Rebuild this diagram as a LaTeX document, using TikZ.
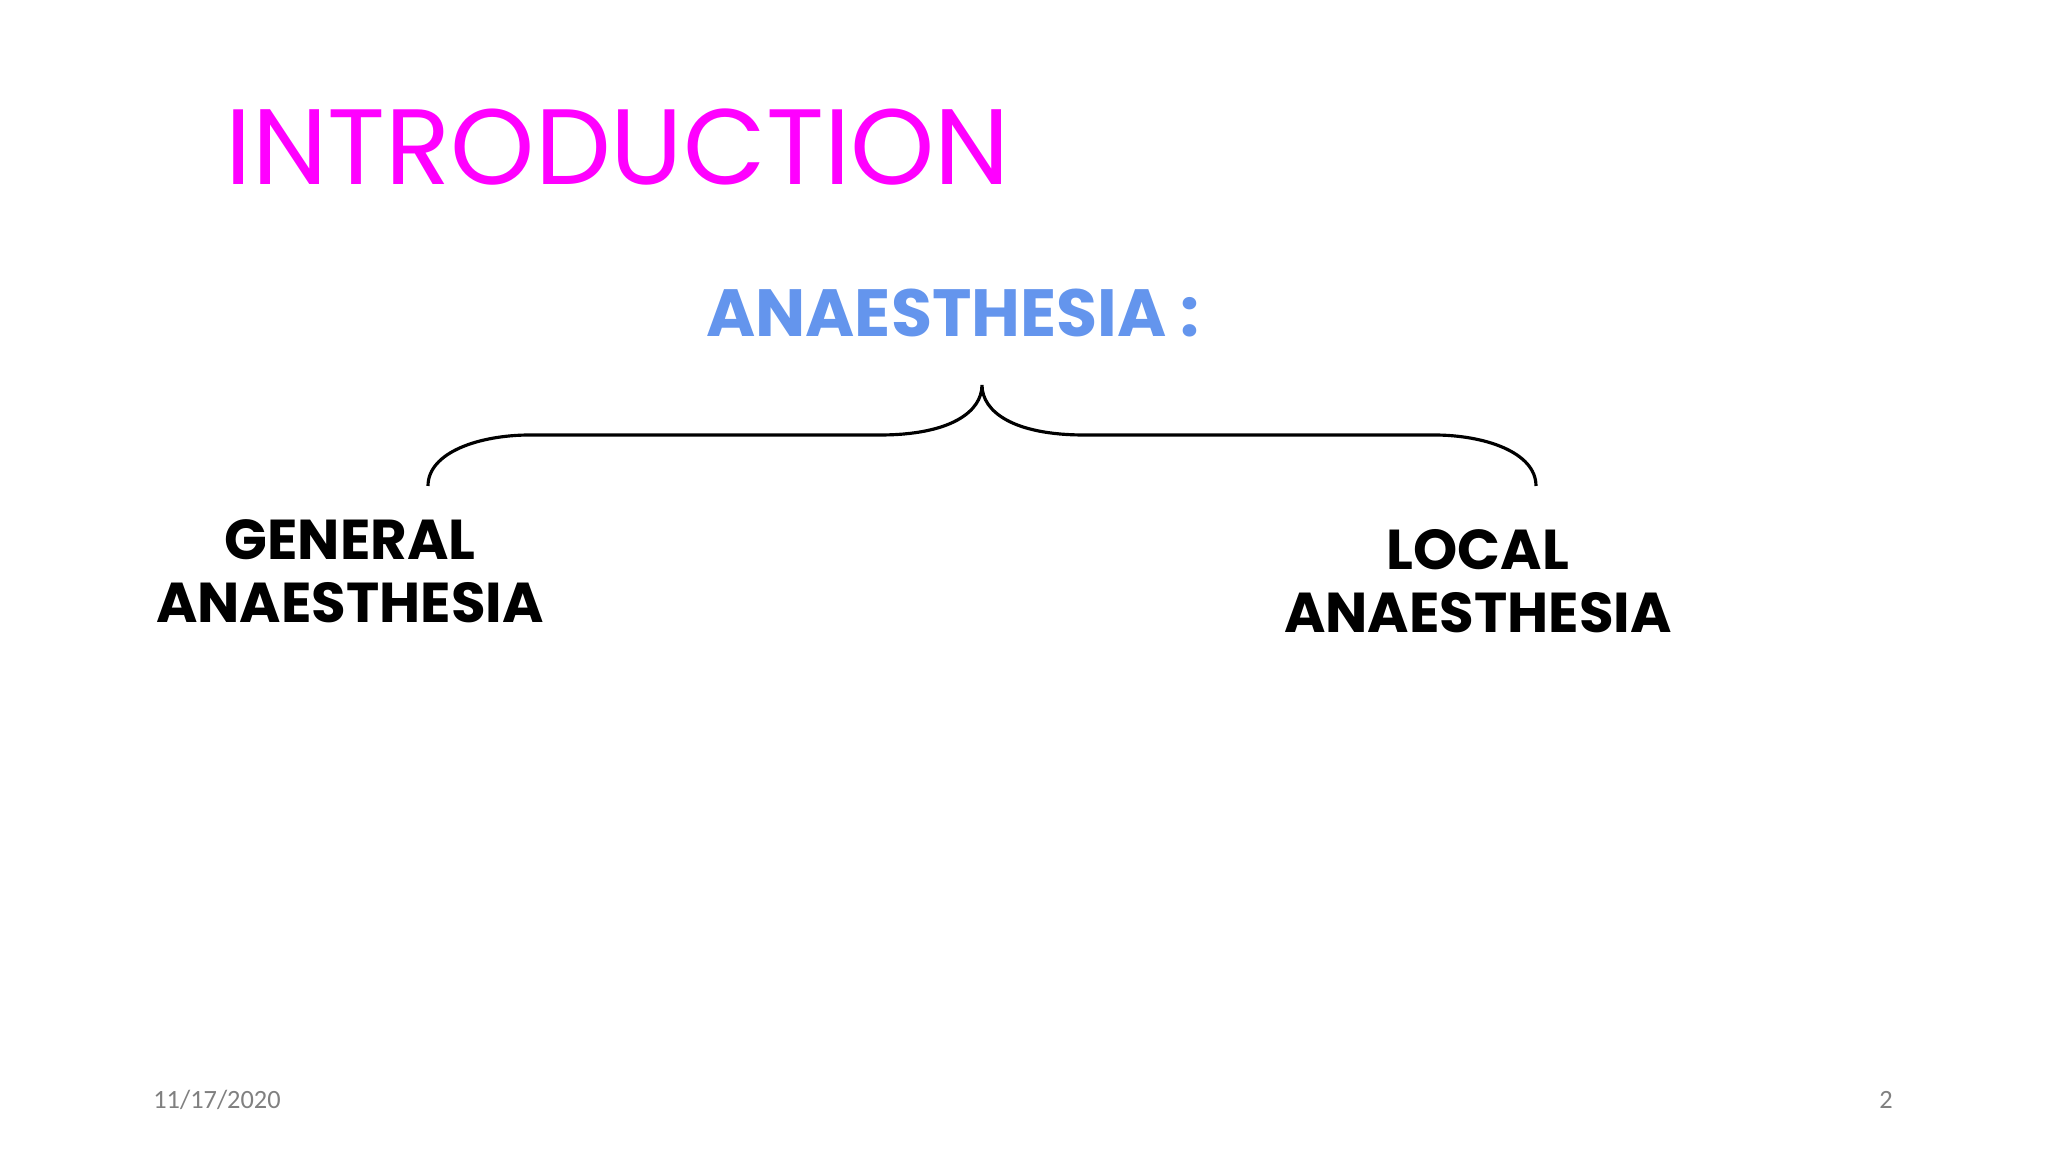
\documentclass[tikz,border=0pt]{standalone}
\usepackage{fontspec}
\setmainfont{Poppins}
\newfontfamily\datefont{Carlito}
\definecolor{mag}{RGB}{255,0,255}
\definecolor{blu}{RGB}{100,149,237}
\begin{document}
\begin{tikzpicture}
\useasboundingbox[fill=white] (0,0) rectangle (20.48,11.52);
\tikzset{branch/.style={font=\bfseries\fontsize{16}{18}\selectfont,align=center,text=black}}
\node[text=mag,font=\fontsize{30.5}{36}\selectfont] (title) at (6.18,10.05) {INTRODUCTION};
\node[text=blu,font=\bfseries\fontsize{19}{24}\selectfont] (root) at (9.53,8.39) {ANAESTHESIA :};
\node[branch] (ga) at (3.5,5.81) {GENERAL\\ANAESTHESIA};
\node[branch] (la) at (14.78,5.71) {LOCAL\\ANAESTHESIA};
\coordinate (tip) at (9.82,7.67);
\draw[line width=0.9pt] (4.28,6.66) .. controls (4.28,7.0) and (4.8,7.17) .. (5.3,7.17) -- (8.8,7.17) .. controls (9.5,7.17) and (9.82,7.4) .. (tip)
  .. controls (9.82,7.4) and (10.14,7.17) .. (10.84,7.17) -- (14.34,7.17) .. controls (14.84,7.17) and (15.36,7.0) .. (15.36,6.66);
\node[text=gray,font=\datefont\fontsize{7.5}{9}\selectfont] (date) at (2.17,0.52) {11/17/2020};
\node[text=gray,font=\datefont\fontsize{7.5}{9}\selectfont] (page) at (18.86,0.52) {2};
\end{tikzpicture}
\end{document}
